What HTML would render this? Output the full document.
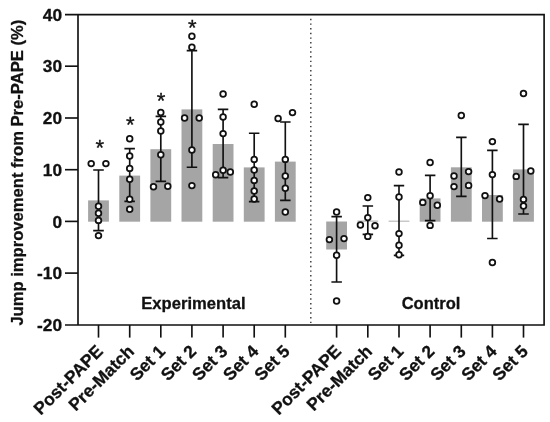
<!DOCTYPE html>
<html><head><meta charset="utf-8"><title>Jump improvement from Pre-PAPE</title>
<style>html,body{margin:0;padding:0;background:#fff}svg{display:block}text{font-family:"Liberation Sans",sans-serif;font-weight:bold;fill:#111;stroke:#111;stroke-width:0.3px;stroke-linejoin:round}</style></head><body>
<svg width="550" height="422" viewBox="0 0 550 422">
<rect width="550" height="422" fill="#fff"/>
<g fill="#a5a5a5">
<rect x="88.1" y="200.4" width="20.8" height="21.3"/>
<rect x="119.3" y="175.6" width="20.8" height="46.1"/>
<rect x="150.4" y="149.2" width="20.8" height="72.5"/>
<rect x="181.5" y="109.4" width="20.8" height="112.3"/>
<rect x="212.7" y="144.0" width="20.8" height="77.7"/>
<rect x="243.8" y="167.4" width="20.8" height="54.3"/>
<rect x="274.9" y="161.6" width="20.8" height="60.1"/>
<rect x="326.2" y="221.5" width="20.8" height="28.0"/>
<rect x="357.4" y="220.6" width="20.8" height="1.0"/>
<rect x="388.6" y="220.7" width="20.8" height="0.9"/>
<rect x="419.7" y="198.4" width="20.8" height="23.3"/>
<rect x="450.9" y="167.3" width="20.8" height="54.4"/>
<rect x="482.0" y="195.0" width="20.8" height="26.7"/>
<rect x="513.1" y="169.4" width="20.8" height="52.3"/>
</g>
<line x1="310.8" y1="18.75" x2="310.8" y2="323" stroke="#333" stroke-width="1.4" stroke-dasharray="1.4 3.26"/>
<g stroke="#111" stroke-width="1.65" fill="none" stroke-linecap="butt">
<path d="M65.0 14.65H544.1V324.95H65.0M78.0 14.65V324.95"/>
<path d="M65.0 66.2H78.0"/>
<path d="M65.0 118.0H78.0"/>
<path d="M65.0 169.7H78.0"/>
<path d="M65.0 221.4H78.0"/>
<path d="M65.0 273.1H78.0"/>
<path d="M98.5 324.95V337.6"/>
<path d="M129.7 324.95V337.6"/>
<path d="M160.8 324.95V337.6"/>
<path d="M191.9 324.95V337.6"/>
<path d="M223.1 324.95V337.6"/>
<path d="M254.2 324.95V337.6"/>
<path d="M285.3 324.95V337.6"/>
<path d="M336.6 324.95V337.6"/>
<path d="M367.8 324.95V337.6"/>
<path d="M399.0 324.95V337.6"/>
<path d="M430.1 324.95V337.6"/>
<path d="M461.3 324.95V337.6"/>
<path d="M492.4 324.95V337.6"/>
<path d="M523.5 324.95V337.6"/>
</g>
<g stroke="#111" stroke-width="1.65" fill="none">
<path d="M93.2 170.0H103.8M93.2 230.6H103.8M98.5 170.0V230.6"/>
<path d="M124.4 148.6H134.9M124.4 201.3H134.9M129.7 148.6V201.3"/>
<path d="M155.6 116.4H166.1M155.6 181.3H166.1M160.8 116.4V181.3"/>
<path d="M186.7 50.6H197.2M186.7 167.2H197.2M191.9 50.6V167.2"/>
<path d="M217.8 109.4H228.3M217.8 177.6H228.3M223.1 109.4V177.6"/>
<path d="M248.9 133.2H259.4M248.9 201.6H259.4M254.2 133.2V201.6"/>
<path d="M280.1 122.0H290.6M280.1 200.4H290.6M285.3 122.0V200.4"/>
<path d="M331.4 216.6H341.9M331.4 282.0H341.9M336.6 216.6V282.0"/>
<path d="M362.6 206.0H373.1M362.6 234.4H373.1M367.8 206.0V234.4"/>
<path d="M393.8 185.6H404.2M393.8 255.4H404.2M399.0 185.6V255.4"/>
<path d="M424.9 175.3H435.4M424.9 220.6H435.4M430.1 175.3V220.6"/>
<path d="M456.1 137.4H466.6M456.1 196.4H466.6M461.3 137.4V196.4"/>
<path d="M487.1 150.4H497.6M487.1 238.5H497.6M492.4 150.4V238.5"/>
<path d="M518.2 124.4H528.8M518.2 214.0H528.8M523.5 124.4V214.0"/>
</g>
<g stroke="#111" stroke-width="1.75" fill="#fff">
<circle cx="91.2" cy="163.6" r="2.85"/>
<circle cx="105.9" cy="163.6" r="2.85"/>
<circle cx="98.5" cy="206.2" r="2.85"/>
<circle cx="98.5" cy="213.2" r="2.85"/>
<circle cx="98.5" cy="220.4" r="2.85"/>
<circle cx="98.5" cy="235.6" r="2.85"/>
<circle cx="129.7" cy="138.8" r="2.85"/>
<circle cx="129.7" cy="156.0" r="2.85"/>
<circle cx="129.7" cy="168.4" r="2.85"/>
<circle cx="129.7" cy="179.2" r="2.85"/>
<circle cx="129.7" cy="199.3" r="2.85"/>
<circle cx="129.7" cy="209.2" r="2.85"/>
<circle cx="160.8" cy="112.4" r="2.85"/>
<circle cx="160.8" cy="122.0" r="2.85"/>
<circle cx="160.8" cy="131.0" r="2.85"/>
<circle cx="160.8" cy="154.8" r="2.85"/>
<circle cx="153.5" cy="186.8" r="2.85"/>
<circle cx="167.8" cy="186.2" r="2.85"/>
<circle cx="191.9" cy="36.3" r="2.85"/>
<circle cx="191.9" cy="47.3" r="2.85"/>
<circle cx="184.6" cy="118.0" r="2.85"/>
<circle cx="199.2" cy="118.0" r="2.85"/>
<circle cx="191.9" cy="150.0" r="2.85"/>
<circle cx="191.9" cy="185.6" r="2.85"/>
<circle cx="223.1" cy="94.0" r="2.85"/>
<circle cx="223.1" cy="117.0" r="2.85"/>
<circle cx="223.1" cy="133.6" r="2.85"/>
<circle cx="215.7" cy="174.7" r="2.85"/>
<circle cx="223.1" cy="170.2" r="2.85"/>
<circle cx="230.3" cy="172.0" r="2.85"/>
<circle cx="254.2" cy="104.2" r="2.85"/>
<circle cx="254.2" cy="159.4" r="2.85"/>
<circle cx="254.2" cy="170.0" r="2.85"/>
<circle cx="254.2" cy="180.4" r="2.85"/>
<circle cx="254.2" cy="191.0" r="2.85"/>
<circle cx="254.2" cy="199.0" r="2.85"/>
<circle cx="278.1" cy="118.4" r="2.85"/>
<circle cx="292.5" cy="112.6" r="2.85"/>
<circle cx="285.3" cy="159.4" r="2.85"/>
<circle cx="285.3" cy="176.0" r="2.85"/>
<circle cx="285.3" cy="188.2" r="2.85"/>
<circle cx="285.3" cy="212.0" r="2.85"/>
<circle cx="336.6" cy="212.0" r="2.85"/>
<circle cx="329.4" cy="239.6" r="2.85"/>
<circle cx="344.0" cy="238.6" r="2.85"/>
<circle cx="336.6" cy="255.3" r="2.85"/>
<circle cx="336.6" cy="301.0" r="2.85"/>
<circle cx="367.8" cy="197.6" r="2.85"/>
<circle cx="367.8" cy="217.6" r="2.85"/>
<circle cx="360.4" cy="225.0" r="2.85"/>
<circle cx="375.0" cy="225.7" r="2.85"/>
<circle cx="367.8" cy="236.4" r="2.85"/>
<circle cx="399.0" cy="172.0" r="2.85"/>
<circle cx="399.0" cy="197.0" r="2.85"/>
<circle cx="399.0" cy="233.6" r="2.85"/>
<circle cx="399.0" cy="245.3" r="2.85"/>
<circle cx="399.0" cy="254.8" r="2.85"/>
<circle cx="430.1" cy="162.5" r="2.85"/>
<circle cx="430.1" cy="195.7" r="2.85"/>
<circle cx="422.8" cy="202.4" r="2.85"/>
<circle cx="437.3" cy="205.3" r="2.85"/>
<circle cx="430.1" cy="225.4" r="2.85"/>
<circle cx="461.3" cy="115.4" r="2.85"/>
<circle cx="454.0" cy="176.0" r="2.85"/>
<circle cx="468.6" cy="171.6" r="2.85"/>
<circle cx="454.0" cy="186.6" r="2.85"/>
<circle cx="468.6" cy="185.4" r="2.85"/>
<circle cx="492.4" cy="141.6" r="2.85"/>
<circle cx="492.4" cy="174.6" r="2.85"/>
<circle cx="485.0" cy="195.6" r="2.85"/>
<circle cx="499.6" cy="199.0" r="2.85"/>
<circle cx="492.4" cy="262.4" r="2.85"/>
<circle cx="523.5" cy="93.4" r="2.85"/>
<circle cx="516.2" cy="176.4" r="2.85"/>
<circle cx="530.8" cy="171.0" r="2.85"/>
<circle cx="523.5" cy="199.4" r="2.85"/>
<circle cx="523.5" cy="206.0" r="2.85"/>
</g>
<text x="99.8" y="155.2" font-size="22" text-anchor="middle" style="font-weight:normal;stroke:#111;stroke-width:0.35">*</text>
<text x="161.0" y="108.1" font-size="22" text-anchor="middle" style="font-weight:normal;stroke:#111;stroke-width:0.35">*</text>
<text x="192.2" y="34.7" font-size="22" text-anchor="middle" style="font-weight:normal;stroke:#111;stroke-width:0.35">*</text>
<text x="130.2" y="131.7" font-size="22" text-anchor="middle" style="font-weight:normal;stroke:#111;stroke-width:0.35">*</text>
<text x="62.1" y="20.7" font-size="17.3" text-anchor="end">40</text>
<text x="62.1" y="72.4" font-size="17.3" text-anchor="end">30</text>
<text x="62.1" y="124.2" font-size="17.3" text-anchor="end">20</text>
<text x="62.1" y="175.9" font-size="17.3" text-anchor="end">10</text>
<text x="62.1" y="227.6" font-size="17.3" text-anchor="end">0</text>
<text x="62.1" y="279.3" font-size="17.3" text-anchor="end">-10</text>
<text x="62.1" y="331.0" font-size="17.3" text-anchor="end">-20</text>
<text transform="translate(22.8 172.7) rotate(-90)" font-size="16.6" text-anchor="middle">Jump improvement from Pre-PAPE (%)</text>
<text x="193.4" y="308.7" font-size="16.6" text-anchor="middle">Experimental</text>
<text x="431" y="308.8" font-size="16.5" text-anchor="middle">Control</text>
<text transform="translate(104.0 352.4) rotate(-45)" font-size="17.4" text-anchor="end">Post-PAPE</text>
<text transform="translate(135.2 352.4) rotate(-45)" font-size="17.4" text-anchor="end">Pre-Match</text>
<text transform="translate(166.3 352.4) rotate(-45)" font-size="17.4" text-anchor="end">Set 1</text>
<text transform="translate(197.4 352.4) rotate(-45)" font-size="17.4" text-anchor="end">Set 2</text>
<text transform="translate(228.6 352.4) rotate(-45)" font-size="17.4" text-anchor="end">Set 3</text>
<text transform="translate(259.7 352.4) rotate(-45)" font-size="17.4" text-anchor="end">Set 4</text>
<text transform="translate(290.8 352.4) rotate(-45)" font-size="17.4" text-anchor="end">Set 5</text>
<text transform="translate(342.1 352.4) rotate(-45)" font-size="17.4" text-anchor="end">Post-PAPE</text>
<text transform="translate(373.3 352.4) rotate(-45)" font-size="17.4" text-anchor="end">Pre-Match</text>
<text transform="translate(404.5 352.4) rotate(-45)" font-size="17.4" text-anchor="end">Set 1</text>
<text transform="translate(435.6 352.4) rotate(-45)" font-size="17.4" text-anchor="end">Set 2</text>
<text transform="translate(466.8 352.4) rotate(-45)" font-size="17.4" text-anchor="end">Set 3</text>
<text transform="translate(497.9 352.4) rotate(-45)" font-size="17.4" text-anchor="end">Set 4</text>
<text transform="translate(529.0 352.4) rotate(-45)" font-size="17.4" text-anchor="end">Set 5</text>
</svg></body></html>
